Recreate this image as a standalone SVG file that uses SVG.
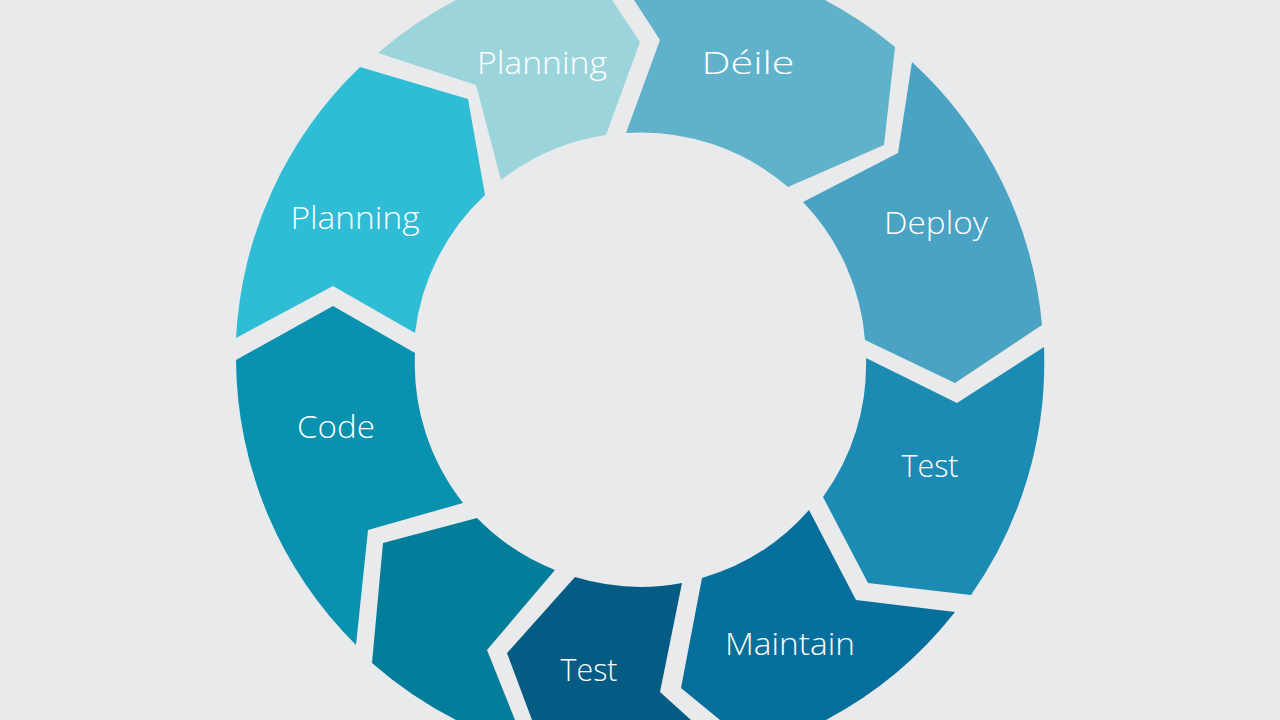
<svg xmlns="http://www.w3.org/2000/svg" width="1280" height="720" viewBox="0 0 1280 720">
<style>
.t{font-family:"Open Sans","Noto Sans","Liberation Sans",sans-serif;font-size:32px;font-weight:300;fill:#fff;text-anchor:middle}
</style>
<rect width="1280" height="720" fill="#e9eaeb"/>
<g id="connectors"/>
<g id="planning-top"><path fill="#9bd4db" d="M378 53A405 405 0 0 1 456 0L612 0L640 42L606 135A225 225 0 0 0 501 180L476 85Z"/><text class="t" x="542" y="74" textLength="130" lengthAdjust="spacingAndGlyphs">Planning</text></g>
<g id="deile"><path fill="#60b2ca" d="M634 0L660 40L626 133A225 225 0 0 1 788 187L884 145L895 47A405 405 0 0 0 825 0Z"/><text class="t" x="748" y="74" textLength="93" lengthAdjust="spacingAndGlyphs">Déile</text></g>
<g id="deploy"><path fill="#4aa3c3" d="M912 62A405 405 0 0 1 1042 325L955 383L865 340A225 225 0 0 0 803 202L898 153Z"/><text class="t" x="936" y="234" textLength="104" lengthAdjust="spacingAndGlyphs">Deploy</text></g>
<g id="test-right"><path fill="#1c8bb4" d="M1044 347A405 405 0 0 1 971 595L868 583L823 497A225 225 0 0 0 866 358L957 403Z"/><text class="t" x="930" y="477" textLength="57" lengthAdjust="spacingAndGlyphs">Test</text></g>
<g id="maintain"><path fill="#076f9c" d="M955 612A405 405 0 0 1 826 720L720 720L681 688L702 578A225 225 0 0 0 809 510L856 600Z"/><text class="t" x="790" y="655" textLength="130" lengthAdjust="spacingAndGlyphs">Maintain</text></g>
<g id="test-bottom"><path fill="#045b83" d="M575 577A225 225 0 0 0 682 583L660 692L691 720L532 720L507 653Z"/><text class="t" x="589" y="681" textLength="57" lengthAdjust="spacingAndGlyphs">Test</text></g>
<g id="unlabelled"><path fill="#037e9a" d="M477 518A225 225 0 0 0 555 570L487 650L515 720L456 720A405 405 0 0 1 372 663L383 543Z"/></g>
<g id="code"><path fill="#0892af" d="M236 360L333 306L415 353A225 225 0 0 0 463 503L368 530L356 645A405 405 0 0 1 236 360Z"/><text class="t" x="336" y="438" textLength="78" lengthAdjust="spacingAndGlyphs">Code</text></g>
<g id="planning-left"><path fill="#2fbdd5" d="M360 67L468 99L485 195A225 225 0 0 0 415 333L333 286L236 338A405 405 0 0 1 360 67Z"/><text class="t" x="355" y="229" textLength="129" lengthAdjust="spacingAndGlyphs">Planning</text></g>
</svg>
